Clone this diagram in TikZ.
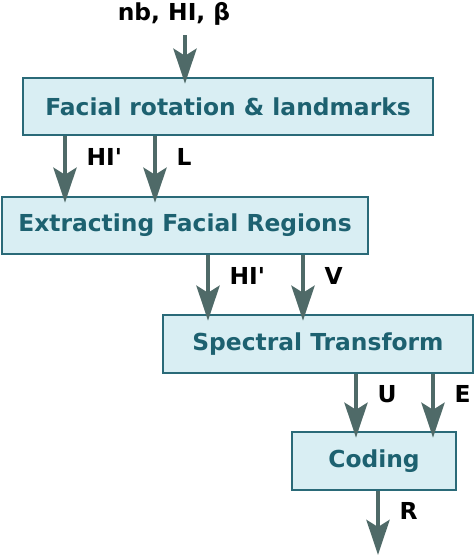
\documentclass[tikz,border=0pt]{standalone}
\usepackage{fontspec}
\setmainfont{DejaVu Sans}
\usetikzlibrary{arrows.meta}
\definecolor{boxfill}{HTML}{D9EEF3}
\definecolor{boxline}{HTML}{2A6A78}
\definecolor{boxtext}{HTML}{1D6170}
\definecolor{flowgray}{HTML}{4F6A68}
\begin{document}
\begin{tikzpicture}[x=0.02cm, y=-0.02cm, >={Stealth[length=0.7cm, width=0.46cm, inset=0.14cm]},
        block/.style={draw=boxline, fill=boxfill, line width=0.05cm, text=boxtext, inner sep=0pt,
                font=\bfseries\fontsize{13.3}{16}\selectfont},
        flow/.style={->, flowgray, line width=0.09cm, shorten >=-0.14cm},
        lbl/.style={text=black, font=\bfseries\fontsize{13.3}{16}\selectfont}]
                \useasboundingbox (0,0) rectangle (474,555);

                % Blocks
                \node[block, minimum width=8.2cm, minimum height=1.14cm] (rot) at (228,106.5) {Facial rotation \& landmarks};
                \node[block, minimum width=7.32cm, minimum height=1.14cm] (reg) at (185,225.5) {Extracting Facial Regions};
                \node[block, minimum width=6.2cm, minimum height=1.16cm] (spec) at (318,344) {Spectral Transform};
                \node[block, minimum width=3.28cm, minimum height=1.16cm] (code) at (374,461) {Coding};

                % Input and output
                \node[lbl] (inp) at (174,14) {nb, HI, β};
                \coordinate (src) at (185,35);
                \coordinate (sink) at (378,548);

                % Flows
                \draw[flow] (src) -- (185,0 |- rot.north);
                \draw[flow] (65,0 |- rot.south) -- (65,0 |- reg.north) node[lbl, pos=0.35, right=0.27cm] {HI\textquotesingle};
                \draw[flow] (155,0 |- rot.south) -- (155,0 |- reg.north) node[lbl, pos=0.35, right=0.27cm] {L};
                \draw[flow] (208,0 |- reg.south) -- (208,0 |- spec.north) node[lbl, pos=0.35, right=0.27cm] {HI\textquotesingle};
                \draw[flow] (303,0 |- reg.south) -- (303,0 |- spec.north) node[lbl, pos=0.35, right=0.27cm] {V};
                \draw[flow] (356,0 |- spec.south) -- (356,0 |- code.north) node[lbl, pos=0.35, right=0.27cm] {U};
                \draw[flow] (433,0 |- spec.south) -- (433,0 |- code.north) node[lbl, pos=0.35, right=0.27cm] {E};
                \draw[flow] (378,0 |- code.south) -- (sink) node[lbl, pos=0.35, right=0.27cm] {R};
            \end{tikzpicture}
\end{document}
